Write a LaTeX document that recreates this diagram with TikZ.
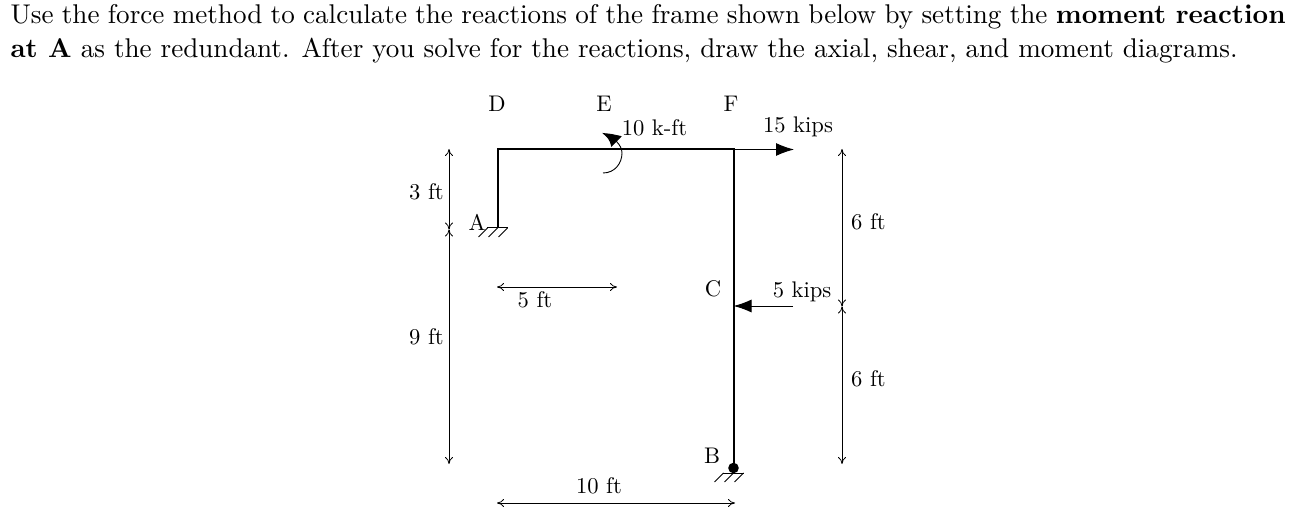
\documentclass[tikz,border=0pt]{standalone}
\usetikzlibrary{arrows.meta,bending}
\tikzset{
  x=1pt,y=1pt,
  member/.style={line width=2pt,line cap=round,line join=miter},
  dimline/.style={line width=0.8pt,{To[length=7,width=8]}-{To[length=7,width=8]}},
  forceline/.style={line width=1pt,-{Latex[length=18,width=13]}},
  hatch/.style={line width=0.9pt},
  lbl/.style={inner sep=0pt,scale=2.26},
  para/.style={inner sep=0pt,anchor=base west,scale=2.71}
}
\begin{document}
\begin{tikzpicture}
\useasboundingbox (0,0) rectangle (1294,-516);
\node[para] (t1) at (10,-24) {\hbox to 470.5pt{Use the force method to calculate the reactions of the frame shown below by setting the \textbf{moment reaction}}};
\node[para] (t2) at (10,-57.5) {\textbf{at A} as the redundant. After you solve for the reactions, draw the axial, shear, and moment diagrams.};
\coordinate (A) at (498,-227);
\coordinate (D) at (498,-149.5);
\coordinate (F) at (733.5,-149.5);
\coordinate (C) at (733.5,-306);
\coordinate (B) at (733.5,-468);
\coordinate (Fend) at (794,-149.5);
\coordinate (Cend) at (793,-306);
\draw[member] (A) -- (D) -- (F) -- (B);
\draw[forceline] (F) -- (Fend);
\draw[forceline] (Cend) -- (C);
\fill (B) circle (5.3);
% supports
\draw[hatch] (487,-227.5) -- (508,-227.5);
\foreach \i in {0,1,2} \draw[hatch] ({487.5+\i*10},-228) -- ++(-9,-9);
\draw[hatch] (723,-473) -- (744,-473);
\foreach \i in {0,1,2} \draw[hatch] ({723.5+\i*10},-473) -- ++(-9,-9);
% moment
\coordinate (M0) at (603,-173);
\coordinate (M1) at (622,-153);
\coordinate (M2) at (602,-133);
\draw[line width=0.9pt,-{Latex[length=18,width=15,bend]}] (M0) .. controls (615,-173) and (622,-163) .. (M1) .. controls (622,-145) and (614,-137) .. (M2);
% dimensions
\coordinate (d1) at (449,-149);
\coordinate (d2) at (449,-229.5);
\coordinate (d4) at (449,-464);
\draw[dimline] (d1) -- (d2);
\draw[dimline] (d2) -- (d4);
\coordinate (d5) at (842,-149);
\coordinate (d6) at (842,-306.5);
\coordinate (d8) at (842,-464);
\draw[dimline] (d5) -- (d6);
\draw[dimline] (d6) -- (d8);
\coordinate (h1) at (497,-287);
\coordinate (h2) at (617,-287);
\draw[dimline] (h1) -- (h2);
\coordinate (h3) at (497,-503);
\coordinate (h4) at (735,-503);
\draw[dimline] (h3) -- (h4);
% labels
\node[lbl] (lD) at (497,-104) {D};
\node[lbl] (lE) at (604,-104) {E};
\node[lbl] (lF) at (731,-104) {F};
\node[lbl] (lA) at (477,-222) {A};
\node[lbl] (lC) at (713,-289) {C};
\node[lbl] (lB) at (712,-456) {B};
\node[lbl] (m) at (654.5,-128) {10 k-ft};
\node[lbl] (f15) at (798,-127) {15 kips};
\node[lbl] (f5) at (802,-292) {5 kips};
\node[lbl] (l3) at (426.5,-192) {3 ft};
\node[lbl] (l9) at (426.5,-337) {9 ft};
\node[lbl] (l6a) at (868.5,-222) {6 ft};
\node[lbl] (l6b) at (868.5,-379) {6 ft};
\node[lbl] (l5) at (535,-300) {5 ft};
\node[lbl] (l10) at (599,-486) {10 ft};
\end{tikzpicture}
\end{document}
